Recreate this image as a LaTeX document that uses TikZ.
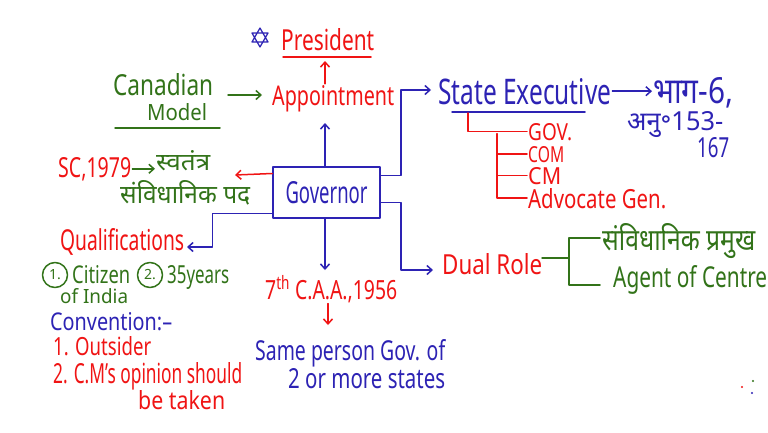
\documentclass[tikz,border=0pt]{standalone}
\usepackage{fontspec}
\usepackage{graphicx}
\setmainfont{Noto Sans}
\newfontfamily\hindi[Script=Devanagari]{Noto Sans}
\usetikzlibrary{arrows.meta}
\definecolor{pr}{RGB}{240,20,20}
\definecolor{pb}{RGB}{45,35,180}
\definecolor{pg}{RGB}{50,115,25}
\newcommand{\fw}[3]{\resizebox{#1pt}{#2pt}{#3}}
\begin{document}
\begin{tikzpicture}[x=1pt,y=-1pt,
  tx/.style={inner sep=1pt, anchor=base west, font=\fontsize{20}{24}\selectfont},
  ln/.style={line width=1.5pt, line cap=round, line join=round},
  arr/.style={ln, -{Straight Barb[length=5pt,width=9pt]}}]
\useasboundingbox (0,0) rectangle (768,432);
\fill[white] (0,0) rectangle (768,432);

% star and President
\draw[pb,line width=1.2pt,line join=round] (260,28)--(268,42)--(252,42)--cycle (252,33)--(268,33)--(260,47)--cycle;
\node[tx,pr] (pres) at (280,50) {\fw{93}{22}{President}};
\draw[ln,pr] (283,57) -- (371,57);

% Appointment and Canadian Model
\node[tx,pr] (app) at (271,105) {\fw{122}{20}{Appointment}};
\node[tx,pg] (can) at (112,95) {\fw{100}{22}{Canadian}};
\node[tx,pg] (mod) at (146,120) {\fw{60}{17}{Model}};
\draw[ln,pg] (115,128) -- (220,128);

% Governor
\node[draw=pb, ln, text=pb, minimum width=107pt, minimum height=51pt, inner sep=0pt,
      font=\fontsize{20}{24}\selectfont] (gov) at (326.5,192.5) {\fw{82}{22}{Governor}};

% State Executive
\node[tx,pb] (se) at (437,104) {\fw{173}{26}{State Executive}};
\draw[ln,pb] (452,112) -- (585,112);
\node[tx,pb] (bhag) at (652,103) {\hindi\fw{80}{26}{भाग-6,}};
\node[tx,pb] (anu) at (626,130) {\hindi\fw{96}{19}{अनु॰153-}};
\node[tx,pb] (n167) at (696,157) {\fw{32}{20}{167}};

\node[tx,pr] (g1) at (527,140) {\fw{44}{17}{GOV.}};
\node[tx,pr] (g2) at (527,162) {\fw{36}{16}{COM}};
\node[tx,pr] (g3) at (527,184) {\fw{33}{17}{CM}};
\node[tx,pr] (g4) at (527,208) {\fw{138}{20}{Advocate Gen.}};

% SC 1979
\node[tx,pr] (sc) at (57,177) {\fw{73}{20}{SC,1979}};
\node[tx,pg] (sv) at (155,170) {\hindi\fw{54}{20}{स्वतंत्र}};
\node[tx,pg] (pad) at (119,203) {\hindi\fw{130}{23}{संविधानिक पद}};

% Qualifications
\node[tx,pr] (qual) at (59,250) {\fw{124}{22}{Qualifications}};
\node[circle,draw=pg,ln,text=pg,minimum size=25pt,inner sep=0pt,font=\fontsize{14}{16}\selectfont] (c1) at (55,275) {1.};
\node[tx,pg] (cit) at (71,283) {\fw{58}{18}{Citizen}};
\node[circle,draw=pg,ln,text=pg,minimum size=25pt,inner sep=0pt,font=\fontsize{14}{16}\selectfont] (c2) at (150,275) {2.};
\node[tx,pg] (yrs) at (166,283) {\fw{62}{18}{35years}};
\node[tx,pg] (ind) at (59,303) {\fw{68}{15}{of India}};

\node[tx,pb] (conv) at (49,330) {\fw{122}{18}{Convention:--}};
\node[tx,pr] (out) at (52,355) {\fw{98}{19}{1. Outsider}};
\node[tx,pr] (cmo) at (52,383) {\fw{189}{21}{2. C.M's opinion should}};
\node[tx,pr] (bet) at (137,409) {\fw{87}{19}{be taken}};

% 7th CAA
\node[tx,pr] (caa) at (264,299) {\fw{132}{24}{7\textsuperscript{th} C.A.A.,1956}};
\node[tx,pb] (same) at (254,360) {\fw{190}{21}{Same person Gov. of}};
\node[tx,pb] (more) at (287,388) {\fw{157}{20}{2 or more states}};

% Dual role
\node[tx,pr] (dual) at (441,274) {\fw{100}{21}{Dual Role}};
\node[tx,pg] (sp) at (601,250) {\hindi\fw{153}{27}{संविधानिक प्रमुख}};
\node[tx,pg] (ag) at (612,287) {\fw{154}{22}{Agent of Centre}};

% coordinates
\coordinate (p1) at (325,61);
\coordinate (p2) at (325,123);
\coordinate (ca0) at (228,95);
\coordinate (ca1) at (262,95);
\coordinate (seIn) at (431,90);
\coordinate (drIn) at (433,270);
\coordinate (qIn) at (187,247);
\coordinate (scIn) at (235,175);
\coordinate (caIn) at (325,270);
\coordinate (sm) at (328,325);
\coordinate (t0) at (468,113);
\coordinate (tr) at (497,134);
\coordinate (dl) at (542,258);
\coordinate (dr) at (569,258);
\coordinate (dt) at (600,238);
\coordinate (db) at (600,285);

% connectors
\draw[arr,pr] (app.north -| p1) -- (p1);
\draw[arr,pb] (gov.north -| p2) -- (p2);
\draw[arr,pg] (ca0) -- (ca1);
\draw[arr,pb] ([yshift=17pt]gov.east) -- ++(20,0) |- (seIn);
\draw[arr,pb] ([yshift=-10pt]gov.east) -- ++(20,0) |- (drIn);
\draw[arr,pb] ([yshift=-21pt]gov.west) -- ++(-60,0) |- (qIn);
\draw[arr,pr] ([yshift=19pt]gov.west) -- (scIn);
\draw[arr,pb] (gov.south -| caIn) -- (caIn);
\draw[arr,pr] (caa.south -| sm) -- (sm);
\draw[arr,pb] (se.east) -- (bhag.west |- se.east);
\draw[arr,pg] (sc.east) -- (sv.west |- sc.east);
\draw[ln,pr] (t0) |- (g1.west);
\foreach \n in {g2,g3,g4} \draw[ln,pr] (tr) |- (\n.west);
\draw[ln,pg] (dl) -- (dr);
\draw[ln,pg] (dt) -| (dr) |- (db);

% stray dots
\fill[pr] (742,387) circle (1.2pt);
\fill[pg] (753,381) circle (1.2pt);
\fill[pb] (752,393) circle (1.2pt);
\end{tikzpicture}
\end{document}
